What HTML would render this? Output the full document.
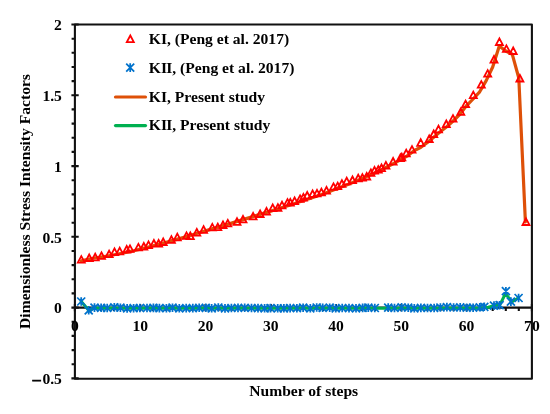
<!DOCTYPE html>
<html><head><meta charset="utf-8"><style>
html,body{margin:0;padding:0;background:#fff;}
body{width:550px;height:414px;overflow:hidden;}
svg{display:block;filter:blur(0.3px);}
text{font-family:"Liberation Serif","Times New Roman",serif;font-weight:bold;fill:#000;}
</style></head><body>
<svg width="550" height="414" viewBox="0 0 550 414">
<rect x="0" y="0" width="550" height="414" fill="#fff"/>
<g stroke="#111" stroke-width="2.1" fill="none" stroke-linecap="butt" stroke-linejoin="round">
<path d="M74.9,24.5H531.9V378.7H74.9Z"/>
<path d="M74.9,307.6H531.9"/>
<path d="M71.4,24.5H78.7M71.6,38.7H74.9M71.6,52.8H74.9M71.6,67.0H74.9M71.6,81.1H74.9M71.4,95.3H78.7M71.6,109.4H74.9M71.6,123.6H74.9M71.6,137.7H74.9M71.6,151.9H74.9M71.4,166.1H78.7M71.6,180.2H74.9M71.6,194.4H74.9M71.6,208.5H74.9M71.6,222.7H74.9M71.4,236.8H78.7M71.6,251.0H74.9M71.6,265.1H74.9M71.6,279.3H74.9M71.6,293.4H74.9M71.4,307.6H78.7M71.6,321.8H74.9M71.6,335.9H74.9M71.6,350.1H74.9M71.6,364.2H74.9M71.4,378.4H78.7M74.9,304.0V311.2M88.0,307.6V311.0M101.0,307.6V311.0M114.1,307.6V311.0M127.1,307.6V311.0M140.2,304.0V311.2M153.2,307.6V311.0M166.3,307.6V311.0M179.4,307.6V311.0M192.4,307.6V311.0M205.5,304.0V311.2M218.5,307.6V311.0M231.6,307.6V311.0M244.6,307.6V311.0M257.7,307.6V311.0M270.8,304.0V311.2M283.8,307.6V311.0M296.9,307.6V311.0M309.9,307.6V311.0M323.0,307.6V311.0M336.0,304.0V311.2M349.1,307.6V311.0M362.2,307.6V311.0M375.2,307.6V311.0M388.3,307.6V311.0M401.3,304.0V311.2M414.4,307.6V311.0M427.4,307.6V311.0M440.5,307.6V311.0M453.6,307.6V311.0M466.6,304.0V311.2M479.7,307.6V311.0M492.7,307.6V311.0M505.8,307.6V311.0M518.8,307.6V311.0M531.9,304.0V311.2"/>
</g>
<g font-size="15.6">
<text x="61.9" y="30.3" text-anchor="end">2</text><text x="61.9" y="101.1" text-anchor="end">1.5</text><text x="61.9" y="171.9" text-anchor="end">1</text><text x="61.9" y="242.6" text-anchor="end">0.5</text><text x="61.9" y="313.4" text-anchor="end">0</text><text x="61.9" y="384.2" text-anchor="end"><tspan stroke="#000" stroke-width="0.9">–</tspan><tspan dx="1.8">0.5</tspan></text>
<text x="74.9" y="331.4" text-anchor="middle">0</text><text x="140.2" y="331.4" text-anchor="middle">10</text><text x="205.5" y="331.4" text-anchor="middle">20</text><text x="270.8" y="331.4" text-anchor="middle">30</text><text x="336.0" y="331.4" text-anchor="middle">40</text><text x="401.3" y="331.4" text-anchor="middle">50</text><text x="466.6" y="331.4" text-anchor="middle">60</text><text x="531.9" y="331.4" text-anchor="middle">70</text>
</g>
<text x="303.7" y="396.2" font-size="15.6" text-anchor="middle">Number of steps</text>
<text transform="translate(30.2,201.5) rotate(-90)" font-size="15.6" text-anchor="middle">Dimensionless Stress Intensity Factors</text>
<polyline points="81.2,301.5 88.7,310.3 95.0,308.0 101.0,308.2 107.5,308.2 114.1,308.2 120.6,308.2 127.1,308.2 133.7,308.2 140.2,308.2 146.7,308.2 153.2,308.2 159.8,308.2 166.3,308.2 172.8,308.2 179.4,308.2 185.9,308.2 192.4,308.2 198.9,308.2 205.5,308.2 212.0,308.2 218.5,308.2 225.1,308.2 231.6,308.2 238.1,308.2 244.6,308.2 251.2,308.2 257.7,308.2 264.2,308.2 270.8,308.2 277.3,308.2 283.8,308.2 290.3,308.2 296.9,308.2 303.4,308.2 309.9,308.2 316.5,308.2 323.0,308.2 329.5,308.2 336.0,308.2 342.6,308.2 349.1,308.2 355.6,308.2 362.2,308.2 368.7,308.2 375.2,308.2 381.7,308.2 388.3,308.2 394.8,308.2 401.3,308.2 407.9,308.2 414.4,308.2 420.9,308.2 427.4,308.2 434.0,308.2 440.5,308.2 447.0,308.2 453.6,308.2 460.1,308.2 466.6,308.2 473.1,308.2 479.7,308.2 488.2,307.2 494.0,305.8 500.0,304.6 505.5,293.5 511.8,302.0 518.6,297.8" fill="none" stroke="#00B050" stroke-width="3" stroke-linejoin="round" stroke-linecap="round"/>
<path d="M77.2,297.5L85.2,305.5M85.2,297.5L77.2,305.5M81.2,297.2L81.2,305.8M84.7,306.3L92.7,314.3M92.7,306.3L84.7,314.3M88.7,306.0L88.7,314.6M90.5,303.6L98.5,311.6M98.5,303.6L90.5,311.6M94.5,303.3L94.5,311.9M97.1,303.8L105.1,311.8M105.1,303.8L97.1,311.8M101.1,303.5L101.1,312.1M103.2,304.0L111.2,312.0M111.2,304.0L103.2,312.0M107.2,303.7L107.2,312.3M110.3,303.4L118.3,311.4M118.3,303.4L110.3,311.4M114.3,303.1L114.3,311.7M116.4,303.7L124.4,311.7M124.4,303.7L116.4,311.7M120.4,303.4L120.4,312.0M123.1,304.4L131.1,312.4M131.1,304.4L123.1,312.4M127.1,304.1L127.1,312.7M129.6,304.2L137.6,312.2M137.6,304.2L129.6,312.2M133.6,303.9L133.6,312.5M135.9,304.0L143.9,312.0M143.9,304.0L135.9,312.0M139.9,303.7L139.9,312.3M143.0,304.0L151.0,312.0M151.0,304.0L143.0,312.0M147.0,303.7L147.0,312.3M149.4,303.9L157.4,311.9M157.4,303.9L149.4,311.9M153.4,303.6L153.4,312.2M155.4,304.1L163.4,312.1M163.4,304.1L155.4,312.1M159.4,303.8L159.4,312.4M162.4,304.2L170.4,312.2M170.4,304.2L162.4,312.2M166.4,303.9L166.4,312.5M168.5,303.7L176.5,311.7M176.5,303.7L168.5,311.7M172.5,303.4L172.5,312.0M175.3,304.3L183.3,312.3M183.3,304.3L175.3,312.3M179.3,304.0L179.3,312.6M182.2,304.1L190.2,312.1M190.2,304.1L182.2,312.1M186.2,303.8L186.2,312.4M188.8,304.1L196.8,312.1M196.8,304.1L188.8,312.1M192.8,303.8L192.8,312.4M195.2,303.8L203.2,311.8M203.2,303.8L195.2,311.8M199.2,303.5L199.2,312.1M201.8,303.8L209.8,311.8M209.8,303.8L201.8,311.8M205.8,303.5L205.8,312.1M207.7,304.3L215.7,312.3M215.7,304.3L207.7,312.3M211.7,304.0L211.7,312.6M214.3,303.5L222.3,311.5M222.3,303.5L214.3,311.5M218.3,303.2L218.3,311.8M221.0,304.4L229.0,312.4M229.0,304.4L221.0,312.4M225.0,304.1L225.0,312.7M227.4,304.0L235.4,312.0M235.4,304.0L227.4,312.0M231.4,303.7L231.4,312.3M234.0,303.9L242.0,311.9M242.0,303.9L234.0,311.9M238.0,303.6L238.0,312.2M240.7,303.8L248.7,311.8M248.7,303.8L240.7,311.8M244.7,303.5L244.7,312.1M247.5,304.0L255.5,312.0M255.5,304.0L247.5,312.0M251.5,303.7L251.5,312.3M254.0,304.1L262.0,312.1M262.0,304.1L254.0,312.1M258.0,303.8L258.0,312.4M260.6,304.3L268.6,312.3M268.6,304.3L260.6,312.3M264.6,304.0L264.6,312.6M266.5,304.1L274.5,312.1M274.5,304.1L266.5,312.1M270.5,303.8L270.5,312.4M273.7,304.3L281.7,312.3M281.7,304.3L273.7,312.3M277.7,304.0L277.7,312.6M279.9,304.3L287.9,312.3M287.9,304.3L279.9,312.3M283.9,304.0L283.9,312.6M286.1,304.1L294.1,312.1M294.1,304.1L286.1,312.1M290.1,303.8L290.1,312.4M292.9,304.2L300.9,312.2M300.9,304.2L292.9,312.2M296.9,303.9L296.9,312.5M299.1,303.7L307.1,311.7M307.1,303.7L299.1,311.7M303.1,303.4L303.1,312.0M306.3,304.3L314.3,312.3M314.3,304.3L306.3,312.3M310.3,304.0L310.3,312.6M312.7,303.5L320.7,311.5M320.7,303.5L312.7,311.5M316.7,303.2L316.7,311.8M318.7,303.8L326.7,311.8M326.7,303.8L318.7,311.8M322.7,303.5L322.7,312.1M325.7,303.7L333.7,311.7M333.7,303.7L325.7,311.7M329.7,303.4L329.7,312.0M331.7,304.3L339.7,312.3M339.7,304.3L331.7,312.3M335.7,304.0L335.7,312.6M338.2,304.0L346.2,312.0M346.2,304.0L338.2,312.0M342.2,303.7L342.2,312.3M345.0,304.1L353.0,312.1M353.0,304.1L345.0,312.1M349.0,303.8L349.0,312.4M352.0,304.3L360.0,312.3M360.0,304.3L352.0,312.3M356.0,304.0L356.0,312.6M358.6,303.9L366.6,311.9M366.6,303.9L358.6,311.9M362.6,303.6L362.6,312.2M364.3,303.7L372.3,311.7M372.3,303.7L364.3,311.7M368.3,303.4L368.3,312.0M370.8,304.0L378.8,312.0M378.8,304.0L370.8,312.0M374.8,303.7L374.8,312.3M384.2,303.6L392.2,311.6M392.2,303.6L384.2,311.6M388.2,303.3L388.2,311.9M390.5,304.0L398.5,312.0M398.5,304.0L390.5,312.0M394.5,303.7L394.5,312.3M397.6,303.4L405.6,311.4M405.6,303.4L397.6,311.4M401.6,303.1L401.6,311.7M404.2,303.7L412.2,311.7M412.2,303.7L404.2,311.7M408.2,303.4L408.2,312.0M410.3,304.3L418.3,312.3M418.3,304.3L410.3,312.3M414.3,304.0L414.3,312.6M416.9,303.9L424.9,311.9M424.9,303.9L416.9,311.9M420.9,303.6L420.9,312.2M423.5,304.0L431.5,312.0M431.5,304.0L423.5,312.0M427.5,303.7L427.5,312.3M430.1,304.0L438.1,312.0M438.1,304.0L430.1,312.0M434.1,303.7L434.1,312.3M436.4,303.5L444.4,311.5M444.4,303.5L436.4,311.5M440.4,303.2L440.4,311.8M442.9,303.1L450.9,311.1M450.9,303.1L442.9,311.1M446.9,302.8L446.9,311.4M449.6,303.5L457.6,311.5M457.6,303.5L449.6,311.5M453.6,303.2L453.6,311.8M456.2,303.4L464.2,311.4M464.2,303.4L456.2,311.4M460.2,303.1L460.2,311.7M462.7,303.7L470.7,311.7M470.7,303.7L462.7,311.7M466.7,303.4L466.7,312.0M469.1,303.7L477.1,311.7M477.1,303.7L469.1,311.7M473.1,303.4L473.1,312.0M475.8,303.3L483.8,311.3M483.8,303.3L475.8,311.3M479.8,303.0L479.8,311.6M480.3,302.8L488.3,310.8M488.3,302.8L480.3,310.8M484.3,302.5L484.3,311.1M490.0,301.6L498.0,309.6M498.0,301.6L490.0,309.6M494.0,301.3L494.0,309.9M495.6,301.2L503.6,309.2M503.6,301.2L495.6,309.2M499.6,300.9L499.6,309.5M501.9,287.2L509.9,295.2M509.9,287.2L501.9,295.2M505.9,286.9L505.9,295.5M506.9,297.6L514.9,305.6M514.9,297.6L506.9,305.6M510.9,297.3L510.9,305.9M514.6,294.0L522.6,302.0M522.6,294.0L514.6,302.0M518.6,293.7L518.6,302.3" fill="none" stroke="#0072CC" stroke-width="1.75"/>
<polyline points="81.4,260.8 88.0,259.3 94.5,258.0 101.0,257.1 107.5,256.0 114.1,254.8 120.6,253.5 127.1,252.1 133.7,250.7 140.2,249.1 146.7,247.5 153.2,245.8 159.8,244.1 166.3,242.3 172.8,240.4 179.4,238.6 185.9,236.7 192.4,234.8 198.9,232.8 205.5,230.9 212.0,228.9 218.5,227.0 225.1,225.0 231.6,223.1 238.1,221.1 244.6,219.1 251.2,217.1 257.7,215.1 264.2,213.1 270.8,211.1 277.3,209.0 283.8,207.0 290.3,204.9 296.9,202.8 303.4,200.6 309.9,198.4 316.5,196.2 323.0,193.9 329.5,191.6 336.0,189.1 342.6,186.6 349.1,184.0 355.6,181.3 362.2,178.5 368.7,175.6 375.2,172.7 381.7,169.6 388.3,166.3 394.8,162.9 401.3,159.3 407.9,155.5 414.4,150.5 420.9,147.2 427.4,142.4 434.0,137.0 440.5,131.6 447.0,126.5 453.6,120.5 460.1,114.0 466.6,105.6 473.1,99.0 479.7,91.8 486.2,80.6 492.7,67.0 499.3,46.0 505.8,51.0 512.3,54.3 518.8,78.0 525.4,222.0" fill="none" stroke="#DE5008" stroke-width="3.2" stroke-linejoin="round" stroke-linecap="round"/>
<path d="M81.3,256.1L84.8,262.7L77.8,262.7ZM89.2,254.4L92.7,261.0L85.7,261.0ZM95.2,253.7L98.7,260.3L91.7,260.3ZM101.5,252.3L105.0,258.9L98.0,258.9ZM109.1,250.6L112.6,257.2L105.6,257.2ZM114.5,248.4L118.0,255.0L111.0,255.0ZM119.7,247.7L123.2,254.3L116.2,254.3ZM126.7,246.0L130.2,252.6L123.2,252.6ZM130.0,245.3L133.5,251.9L126.5,251.9ZM138.4,243.8L141.9,250.4L134.9,250.4ZM143.8,243.0L147.3,249.6L140.3,249.6ZM148.5,241.4L152.0,248.0L145.0,248.0ZM153.9,240.0L157.4,246.6L150.4,246.6ZM158.6,240.0L162.1,246.6L155.1,246.6ZM163.2,238.4L166.7,245.0L159.7,245.0ZM171.4,236.2L174.9,242.8L167.9,242.8ZM177.3,233.7L180.8,240.3L173.8,240.3ZM186.5,232.3L190.0,238.9L183.0,238.9ZM190.3,232.5L193.8,239.1L186.8,239.1ZM196.8,229.0L200.3,235.6L193.3,235.6ZM203.6,226.2L207.1,232.8L200.1,232.8ZM212.3,223.8L215.8,230.4L208.8,230.4ZM217.8,223.6L221.3,230.2L214.3,230.2ZM223.0,221.4L226.5,228.0L219.5,228.0ZM227.8,219.8L231.3,226.4L224.3,226.4ZM237.0,218.2L240.5,224.8L233.5,224.8ZM243.0,215.8L246.5,222.4L239.5,222.4ZM253.1,212.8L256.6,219.4L249.6,219.4ZM260.1,210.4L263.6,217.0L256.6,217.0ZM266.5,208.0L270.0,214.6L263.0,214.6ZM272.7,204.4L276.2,211.0L269.2,211.0ZM277.9,204.2L281.4,210.8L274.4,210.8ZM282.0,201.7L285.5,208.3L278.5,208.3ZM287.5,199.1L291.0,205.7L284.0,205.7ZM290.3,198.9L293.8,205.5L286.8,205.5ZM294.6,197.4L298.1,204.0L291.1,204.0ZM300.1,195.3L303.6,201.9L296.6,201.9ZM303.4,193.9L306.9,200.5L299.9,200.5ZM307.2,192.0L310.7,198.6L303.7,198.6ZM312.6,190.4L316.1,197.0L309.1,197.0ZM317.0,189.8L320.5,196.4L313.5,196.4ZM321.4,188.7L324.9,195.3L317.9,195.3ZM326.5,186.9L330.0,193.5L323.0,193.5ZM333.5,183.3L337.0,189.9L330.0,189.9ZM337.7,182.6L341.2,189.2L334.2,189.2ZM341.9,180.2L345.4,186.8L338.4,186.8ZM346.7,177.7L350.2,184.3L343.2,184.3ZM352.5,176.5L356.0,183.1L349.0,183.1ZM358.2,174.7L361.7,181.3L354.7,181.3ZM362.4,174.1L365.9,180.7L358.9,180.7ZM366.7,172.9L370.2,179.5L363.2,179.5ZM370.9,169.3L374.4,175.9L367.4,175.9ZM374.5,166.9L378.0,173.5L371.0,173.5ZM378.3,166.1L381.8,172.7L374.8,172.7ZM381.5,164.5L385.0,171.1L378.0,171.1ZM385.9,161.9L389.4,168.5L382.4,168.5ZM393.1,158.0L396.6,164.6L389.6,164.6ZM400.4,154.4L403.9,161.0L396.9,161.0ZM401.8,153.7L405.3,160.3L398.3,160.3ZM406.2,149.7L409.7,156.3L402.7,156.3ZM412.0,146.1L415.5,152.7L408.5,152.7ZM420.7,139.2L424.2,145.8L417.2,145.8ZM429.2,135.4L432.7,142.0L425.7,142.0ZM433.7,130.5L437.2,137.1L430.2,137.1ZM438.5,125.7L442.0,132.3L435.0,132.3ZM446.3,120.5L449.8,127.1L442.8,127.1ZM453.0,115.1L456.5,121.7L449.5,121.7ZM460.8,108.3L464.3,114.9L457.3,114.9ZM465.6,100.6L469.1,107.2L462.1,107.2ZM473.3,91.6L476.8,98.2L469.8,98.2ZM481.3,81.1L484.8,87.7L477.8,87.7ZM487.7,70.1L491.2,76.7L484.2,76.7ZM494.0,56.0L497.5,62.6L490.5,62.6ZM499.4,38.4L502.9,45.0L495.9,45.0ZM506.4,45.3L509.9,51.9L502.9,51.9ZM513.2,47.4L516.7,54.0L509.7,54.0ZM519.9,74.9L523.4,81.5L516.4,81.5ZM526.0,218.4L529.5,225.0L522.5,225.0Z" fill="none" stroke="#FF0000" stroke-width="1.8" stroke-linejoin="miter"/>
<!-- legend -->
<path d="M130.3,35.5L133.8,42.1L126.8,42.1Z" fill="none" stroke="#FF0000" stroke-width="1.8"/>
<path d="M126.2,63.6L134.2,71.6M134.2,63.6L126.2,71.6M130.2,63.3L130.2,71.9" fill="none" stroke="#0072CC" stroke-width="1.75"/>
<path d="M115.5,97H145.5" stroke="#DE5008" stroke-width="3.2" stroke-linecap="round"/>
<path d="M115.5,125.6H145.5" stroke="#00B050" stroke-width="3.2" stroke-linecap="round"/>
<g font-size="15.6">
<text x="148.8" y="44.3">KI, (Peng et al. 2017)</text>
<text x="148.8" y="72.9">K<tspan letter-spacing="-0.8">I</tspan>I, (Peng et al. 2017)</text>
<text x="148.8" y="101.7">KI, Present study</text>
<text x="148.8" y="129.9">K<tspan letter-spacing="-0.8">I</tspan>I, Present study</text>
</g>
</svg>
</body></html>
